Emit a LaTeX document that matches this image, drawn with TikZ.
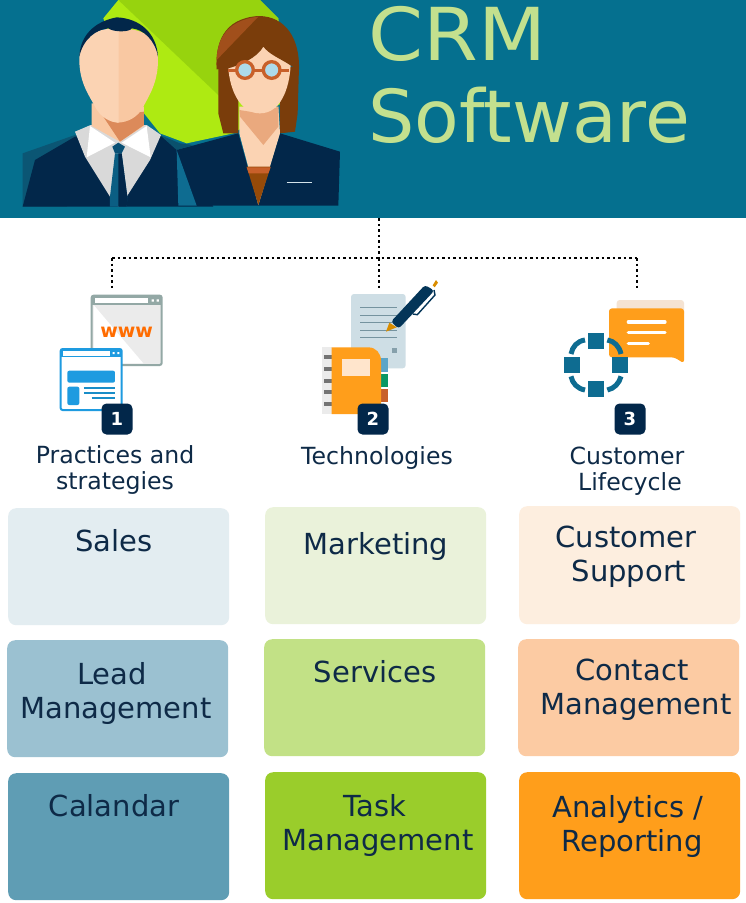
\documentclass[tikz,border=0pt]{standalone}
\usepackage{fontspec}
\setmainfont{DejaVu Sans}
\definecolor{head}{HTML}{05708F}
\definecolor{navy}{HTML}{02274A}
\definecolor{ink}{HTML}{0E2A47}
\definecolor{titlec}{HTML}{C3E08E}
\definecolor{lime}{HTML}{AEEA12}
\definecolor{limed}{HTML}{97D30E}
\definecolor{skinl}{HTML}{FBD3B3}
\definecolor{skind}{HTML}{F9C8A2}
\definecolor{rust}{HTML}{C8602A}
\definecolor{brown}{HTML}{7A3D0B}
\definecolor{orng}{HTML}{FF9E1B}
\definecolor{teal}{HTML}{0E6C91}
\definecolor{sky}{HTML}{1E9BE0}
\definecolor{winGrey}{HTML}{93A8A5}
\definecolor{cardA}{HTML}{E3EDF1}
\definecolor{cardB}{HTML}{EAF2DA}
\definecolor{cardC}{HTML}{FDEEDF}
\definecolor{cardD}{HTML}{9BC1D1}
\definecolor{cardE}{HTML}{C2E186}
\definecolor{cardF}{HTML}{FCCBA3}
\definecolor{cardG}{HTML}{5F9DB4}
\definecolor{cardH}{HTML}{9ACD2B}
\tikzset{
 cardbox/.style={draw=none,rounded corners=8pt,inner sep=0pt,minimum width=221pt},
 cardtext/.style={font=\fontsize{29}{34}\selectfont,text=ink,align=center,inner sep=0pt},
 captext/.style={font=\fontsize{23.6}{24}\selectfont,text=ink,align=center,inner sep=0pt},
 badge/.style={fill=navy,rounded corners=5pt,minimum size=31pt,inner sep=0pt,text=white,font=\fontsize{18}{20}\selectfont\bfseries},
 dots/.style={line width=2pt,black,dash pattern=on 2.5pt off 3pt},
}
\begin{document}
\begin{tikzpicture}[x=1pt,y=-1pt]
\useasboundingbox (0,0) rectangle (746,903);
\fill[white] (0,0) rectangle (746,903);
\node[fill=head,minimum width=746pt,minimum height=218pt,inner sep=0pt,anchor=north west] (header) at (0,0) {};
% people
\begin{scope}[scale=1/3]
\fill[lime] (355,0) -- (780,0) -- (835,55) -- (860,300) -- (700,400) -- (560,430) -- (480,400) -- (400,300) -- (310,55) -- cycle;
\fill[limed] (355,0) -- (780,0) -- (835,55) -- (700,330) -- (660,290) -- cycle;
% man
\fill[black!20!teal] (68,620) -- (68,460) -- (225,405) -- (300,430) -- (200,620) -- cycle;
\fill[navy] (68,620) -- (105,480) -- (225,410) -- (480,405) -- (530,445) -- (640,620) -- cycle;
\fill[black!25!teal] (480,405) -- (540,430) -- (580,435) -- (530,450) -- cycle;
\fill[black!15!white] (225,395) -- (272,375) -- (440,375) -- (483,405) -- (450,480) -- (380,590) -- (355,620) -- (330,590) -- (255,470) -- cycle;
\fill[skind] (275,310) -- (275,378) -- (360,425) -- (432,378) -- (432,320) -- cycle;
\fill[rust!60!skind] (310,350) -- (432,335) -- (432,375) -- (360,425) -- cycle;
\fill[white] (270,378) -- (345,428) -- (260,472) -- cycle;
\fill[white] (440,378) -- (365,428) -- (452,472) -- cycle;
\fill[teal!80!navy] (345,460) -- (365,460) -- (382,590) -- (380,620) -- (330,620) -- (330,590) -- cycle;
\fill[navy] (355,460) -- (365,460) -- (382,590) -- (380,620) -- (355,620) -- cycle;
\fill[teal!60!navy] (337,440) -- (355,428) -- (375,440) -- (365,460) -- (345,460) -- cycle;
\fill[skind] (350,85) .. controls (432,85) and (474,110) .. (474,180) .. controls (474,250) and (445,290) .. (430,320) .. controls (415,350) and (385,368) .. (350,368) -- cycle;
\fill[skinl] (356,85) .. controls (280,85) and (238,110) .. (238,180) .. controls (238,250) and (270,290) .. (285,320) .. controls (300,350) and (330,368) .. (356,368) -- cycle;
\fill[navy] (238,170) .. controls (240,110) and (280,65) .. (350,52) .. controls (420,55) and (470,100) .. (474,170) .. controls (465,120) and (430,88) .. (395,85) .. controls (390,97) and (340,97) .. (325,85) .. controls (290,88) and (250,115) .. (238,170) -- cycle;
% woman
\fill[brown] (655,200) -- (655,340) -- (670,400) -- (715,400) -- (715,200) -- cycle;
\fill[brown] (840,200) -- (840,400) -- (885,395) -- (893,340) -- (897,200) -- cycle;
\fill[navy] (530,450) -- (715,400) -- (775,615) -- (840,400) -- (1020,455) -- (1015,617) -- (590,617) -- cycle;
\fill[teal] (530,450) -- (590,617) -- (535,617) -- cycle;
\fill[skinl] (718,320) -- (718,400) -- (775,615) -- (840,400) -- (835,320) -- cycle;
\fill[skind!70!rust] (718,330) -- (780,340) -- (835,320) -- (835,380) -- (790,435) -- (720,350) -- cycle;
\fill[brown!80!orange] (740,500) -- (812,500) -- (775,615) -- cycle;
\fill[rust] (740,502) -- (812,502) -- (805,520) -- (746,520) -- cycle;
\fill[skinl] (790,130) -- (685,205) .. controls (690,270) and (720,340) .. (780,340) .. controls (840,340) and (868,270) .. (872,195) -- cycle;
\fill[brown] (650,208) .. controls (645,130) and (670,55) .. (775,48) .. controls (860,48) and (900,120) .. (897,210) -- (870,195) .. controls (840,175) and (810,165) .. (790,140) .. controls (770,175) and (720,195) .. (685,205) -- cycle;
\fill[rust!50!brown] (650,208) .. controls (645,130) and (670,62) .. (775,50) -- (650,180) -- cycle;
\draw[rust,line width=3.3pt,fill=black!20!cyan!35!white] (735,210) circle (25);
\draw[rust,line width=3.3pt,fill=black!20!cyan!35!white] (815,210) circle (25);
\draw[rust,line width=3pt] (685,211) -- (710,211) (760,211) -- (790,211) (840,211) -- (868,211);
\draw[black!10!white!90!cyan,line width=1.5pt] (860,548) -- (935,548);
\end{scope}
% title
\node[font=\fontsize{73}{80}\selectfont,text=titlec,anchor=base west,inner sep=0pt,xscale=1.08] (crm) at (368,60) {CRM};
\node[font=\fontsize{73}{80}\selectfont,text=titlec,anchor=base west,inner sep=0pt] (soft) at (368,142) {Software};
% connectors
\coordinate (hub) at (379,258);
\coordinate (hl) at (112,258);
\coordinate (hr) at (637,258);
\coordinate (d1) at (112,290);
\coordinate (d2) at (379,288);
\coordinate (d3) at (637,290);
\draw[dots] (header.south -| hub) -- (hub);
\draw[dots] (hl) -- (hr);
\draw[dots] (hl) -- (d1);
\draw[dots] (hub) -- (d2);
\draw[dots] (hr) -- (d3);
% icon 1
\begin{scope}[shift={(30,280)},scale=1/3]
\draw[winGrey,line width=2pt,fill=black!8,rounded corners=2pt] (185,47) rectangle (395,255);
\fill[winGrey] (185,47) rectangle (395,75);
\fill[white] (191,75) -- (340,250) -- (191,250) -- cycle;
\fill[white] (195,55) rectangle (355,70);
\fill[white] (365,58) rectangle (372,65) (380,58) rectangle (387,65);
\node[font=\fontsize{19}{19}\selectfont\bfseries,text=orange!85!red,inner sep=0pt] (www) at (290,158) {www};
\draw[sky,line width=2pt,fill=white,rounded corners=2pt] (92,207) rectangle (275,390);
\fill[sky] (92,207) rectangle (275,232);
\fill[white] (100,214) rectangle (240,228);
\fill[white] (248,216) rectangle (254,222) (262,216) rectangle (268,222);
\fill[sky,rounded corners=2pt] (112,272) rectangle (255,308);
\fill[sky,rounded corners=2pt] (112,320) rectangle (148,375);
\draw[sky!70!teal,line width=1.7pt] (162,323) -- (255,323) (162,338) -- (255,338) (185,353) -- (255,353);
\end{scope}
% icon 2
\begin{scope}[shift={(300,270)},scale=1/3]
\fill[black!15!teal!20!white,rounded corners=3pt] (153,72) rectangle (317,295);
\draw[teal!40!gray!80!white,line width=1pt] (180,112) -- (290,112) (180,135) -- (290,135) (180,158) -- (290,158) (180,180) -- (290,180) (180,203) -- (290,203);
\fill[teal!40!gray!70!white] (275,235) rectangle (290,248);
\fill[sky!40!teal!70!white] (243,265) rectangle (265,305);
\fill[teal!70!green] (243,312) rectangle (265,350);
\fill[rust] (243,358) rectangle (265,396);
\fill[black!8] (65,232) rectangle (95,432);
\foreach \yy in {262,297,332,367,402} \fill[black!55] (72,\yy-6) rectangle (95,\yy+6);
\fill[orng] (95,232) -- (205,232) .. controls (228,232) and (243,250) .. (243,272) -- (243,432) -- (95,432) -- cycle;
\fill[orange!20!white] (127,267) rectangle (210,318);
\fill[navy!80!teal,rounded corners=3pt] (273,155) -- (375,45) -- (403,62) -- (296,176) -- cycle;
\draw[navy!80!teal,line width=1.4pt] (338,132) -- (352,134) -- (405,75) -- (402,60);
\fill[orange!70!yellow!85!black] (258,185) -- (268,158) -- (290,172) -- cycle;
\fill[orange!70!yellow!85!black] (398,46) -- (408,30) -- (414,38) -- (404,52) -- cycle;
\end{scope}
% icon 3
\begin{scope}[shift={(540,280)},scale=1/3]
\fill[orange!15!white!92!gray,rounded corners=3pt] (230,60) rectangle (432,110);
\fill[orng,rounded corners=3pt] (207,85) -- (432,85) -- (432,250) -- (403,232) -- (207,232) -- cycle;
\draw[white,line width=3.3pt,line cap=round] (265,126) -- (375,126) (265,157) -- (375,157) (265,190) -- (325,190);
\fill[teal] (145,160) rectangle (192,207);
\fill[teal] (72,232) rectangle (120,279);
\fill[teal] (217,232) rectangle (264,279);
\fill[teal] (145,304) rectangle (192,351);
\draw[teal,line width=5pt] (93,222) .. controls (97,200) and (112,183) .. (135,180);
\draw[teal,line width=5pt] (202,180) .. controls (222,183) and (238,198) .. (243,222);
\draw[teal,line width=5pt] (93,289) .. controls (97,310) and (112,326) .. (135,330);
\draw[teal,line width=5pt] (202,330) .. controls (222,326) and (238,310) .. (243,289);
\end{scope}
% badges
\node[badge] (b1) at (117,419) {1};
\node[badge] (b2) at (373,419) {2};
\node[badge] (b3) at (630,419) {3};
% captions
\node[captext] (c1) at (115,471) {\strut Practices and\\\strut strategies};
\node[captext] (c2) at (377,459) {\strut Technologies};
\node[captext] (c3) at (627,472) {\strut Customer\\\strut\hspace*{6pt}Lifecycle};
% cards
\node[cardbox,fill=cardA,minimum height=117pt,anchor=north west] (r1a) at (8,508) {};
\node[cardbox,fill=cardB,minimum height=117pt,anchor=north west] (r1b) at (265,507) {};
\node[cardbox,fill=cardC,minimum height=118pt,anchor=north west] (r1c) at (519,506) {};
\node[cardbox,fill=cardD,minimum height=117pt,anchor=north west] (r2a) at (7,640) {};
\node[cardbox,fill=cardE,minimum height=117pt,anchor=north west] (r2b) at (264,639) {};
\node[cardbox,fill=cardF,minimum height=117pt,anchor=north west] (r2c) at (518,639) {};
\node[cardbox,fill=cardG,minimum height=127pt,anchor=north west] (r3a) at (8,773) {};
\node[cardbox,fill=cardH,minimum height=127pt,anchor=north west] (r3b) at (265,772) {};
\node[cardbox,fill=orng,minimum height=127pt,anchor=north west] (r3c) at (519,772) {};
\node[cardtext] (t1a) at (114,545) {\strut Sales};
\node[cardtext] (t1b) at (376,548) {\strut Marketing};
\node[cardtext] (t1c) at (626,558) {\strut Customer\\\strut\hspace*{6pt}Support};
\node[cardtext] (t2a) at (116,695) {\strut\hspace*{-8pt}Lead\\\strut Management};
\node[cardtext] (t2b) at (375,676) {\strut Services};
\node[cardtext] (t2c) at (636,691) {\strut\hspace*{-8pt}Contact\\\strut Management};
\node[cardtext] (t3a) at (114,810) {\strut Calandar};
\node[cardtext] (t3b) at (378,827) {\strut\hspace*{-6pt}Task\\\strut Management};
\node[cardtext] (t3c) at (628,828) {\strut Analytics /\\\strut\hspace*{8pt}Reporting};
\end{tikzpicture}
\end{document}
